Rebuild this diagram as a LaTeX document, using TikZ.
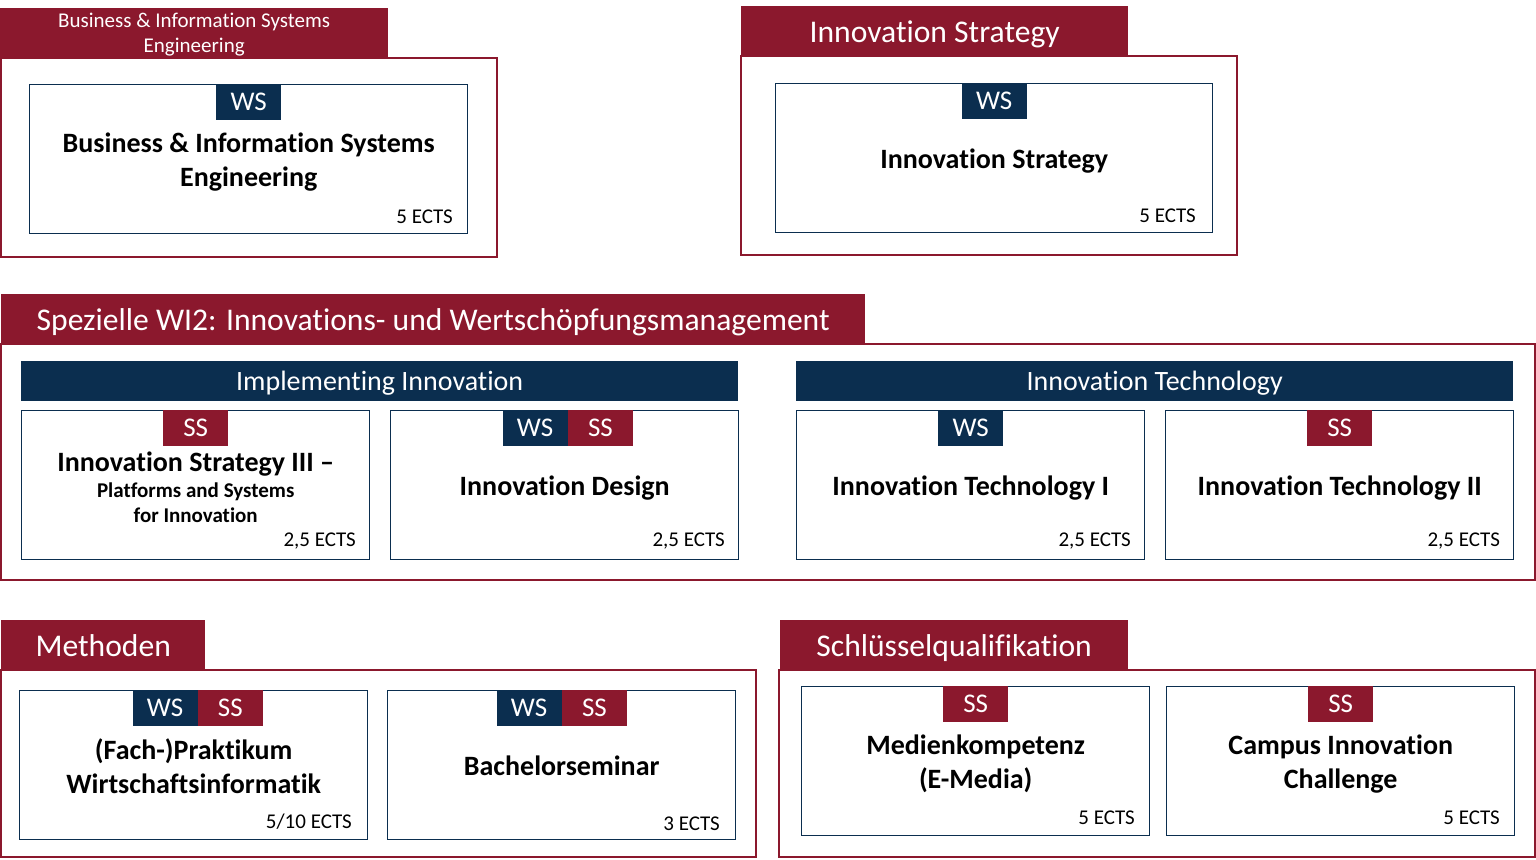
\documentclass[tikz,border=0pt]{standalone}
\usepackage{fontspec}
\setmainfont{Carlito}[Ligatures=NoCommon]
\usetikzlibrary{positioning}
\definecolor{uniRot}{RGB}{139,24,45}
\definecolor{uniBlau}{RGB}{11,46,79}

\begin{document}
\begin{tikzpicture}[
        x=1pt, y=-1pt, % Koordinaten in Pixeln, y nach unten
        frame/.style = {draw=uniRot, line width=1.3pt},
        tab/.style = {fill=uniRot, text=white, anchor=south west, minimum height=50pt, inner sep=0pt},
        tabzeile/.style = {tab, text height=29pt, text depth=5pt, font=\fontsize{31.6}{36}\selectfont},
        bar/.style = {fill=uniBlau, text=white, anchor=north west, minimum width=717pt, minimum height=40pt, inner sep=0pt, text height=24pt, text depth=5pt, font=\fontsize{28}{32}\selectfont},
        card/.style = {draw=uniBlau, line width=1.4pt, anchor=north west, minimum width=348pt, minimum height=149pt, inner sep=0pt}, % Modul
        sem/.style = {text=white, minimum width=65pt, minimum height=36pt, inner sep=0pt, font=\fontsize{27}{30}\selectfont},
        ws/.style = {sem, fill=uniBlau},
        ss/.style = {sem, fill=uniRot},
        titel/.style = {align=center, yshift=-3pt, font=\fontsize{28}{34}\selectfont\bfseries},
        ects/.style = {anchor=east, font=\fontsize{21}{24}\selectfont},
    ]
    \useasboundingbox (0,0) rectangle (1536,859);

    % Business & Information Systems Engineering
    \draw[frame] (1,58) rectangle (497,257);
    \node[tab, minimum width=388pt, align=center, font=\fontsize{21}{25}\selectfont] (bisetab) at (0,58) {\rule{0pt}{19pt}Business \& Information Systems\\Engineering};
    \node[card, minimum width=438pt] (bise) at (29,84) {};
    \node[ws, anchor=north] (bisews) at (bise.north) {WS};
    \node[titel] (bisetitel) at (bise.center) {Business \& Information Systems\\Engineering};
    \node[ects] (biseects) at ([xshift=-12pt,yshift=18pt]bise.south east) {5 ECTS};

    % Innovation Strategy
    \draw[frame] (741,56) rectangle (1237,255);
    \node[tabzeile, minimum width=387pt] (istab) at (741,56) {Innovation Strategy};
    \node[card, minimum width=437pt] (is) at (775,83) {};
    \node[ws, anchor=north] (isws) at (is.north) {WS};
    \node[titel] (istitel) at (is.center) {Innovation Strategy};
    \node[ects] (isects) at ([xshift=-14pt,yshift=18pt]is.south east) {5 ECTS};

    % Spezielle WI2
    \draw[frame] (1,344) rectangle (1535,580);
    \node[tabzeile, minimum width=864pt] (wi2tab) at (1,344) {Spezielle WI2: Innovations- und Wertschöpfungsmanagement};
    \node[bar] (impl) at (21,361) {Implementing Innovation};
    \node[bar] (tech) at (796,361) {Innovation Technology};

    \node[card] (is3) at (21,410) {};
    \node[ss, anchor=north] (is3ss) at (is3.north) {SS};
    \node[titel, yshift=1pt] (is3titel) at (is3.center) {Innovation Strategy III –\\[-8pt]{\fontsize{21}{25}\selectfont Platforms and Systems}\\[-9pt]{\fontsize{21}{25}\selectfont for Innovation}};
    \node[ects] (is3ects) at ([xshift=-11pt,yshift=19pt]is3.south east) {2,5 ECTS};

    \node[card] (design) at (390,410) {};
    \node[ws, anchor=north east] (designws) at ([xshift=3pt]design.north) {WS};
    \node[ss, anchor=west] (designss) at (designws.east) {SS};
    \node[titel] (designtitel) at (design.center) {Innovation Design};
    \node[ects] (designects) at ([xshift=-11pt,yshift=19pt]design.south east) {2,5 ECTS};

    \node[card] (tech1) at (796,410) {};
    \node[ws, anchor=north] (tech1ws) at (tech1.north) {WS};
    \node[titel] (tech1titel) at (tech1.center) {Innovation Technology I};
    \node[ects] (tech1ects) at ([xshift=-11pt,yshift=19pt]tech1.south east) {2,5 ECTS};

    \node[card] (tech2) at (1165,410) {};
    \node[ss, anchor=north] (tech2ss) at (tech2.north) {SS};
    \node[titel] (tech2titel) at (tech2.center) {Innovation Technology II};
    \node[ects] (tech2ects) at ([xshift=-11pt,yshift=19pt]tech2.south east) {2,5 ECTS};

    % Methoden
    \draw[frame] (1,670) rectangle (756,857);
    \node[tabzeile, minimum width=204pt] (methtab) at (1,670) {Methoden};

    \node[card] (prak) at (19,690) {};
    \node[ws, anchor=north east] (prakws) at ([xshift=4pt]prak.north) {WS};
    \node[ss, anchor=west] (prakss) at (prakws.east) {SS};
    \node[titel, yshift=2pt] (praktitel) at (prak.center) {(Fach-)Praktikum\\Wirtschaftsinformatik};
    \node[ects] (prakects) at ([xshift=-13pt,yshift=19pt]prak.south east) {5/10 ECTS};

    \node[card] (bsem) at (387,690) {};
    \node[ws, anchor=north east] (bsemws) at ([xshift=0pt]bsem.north) {WS};
    \node[ss, anchor=west] (bsemss) at (bsemws.east) {SS};
    \node[titel, yshift=2pt] (bsemtitel) at (bsem.center) {Bachelorseminar};
    \node[ects] (bsemects) at ([xshift=-13pt,yshift=17pt]bsem.south east) {3 ECTS};

    % Schlüsselqualifikation
    \draw[frame] (779,670) rectangle (1535,857);
    \node[tabzeile, minimum width=348pt] (sqtab) at (780,670) {Schlüsselqualifikation};

    \node[card] (media) at (801,686) {};
    \node[ss, anchor=north] (mediass) at (media.north) {SS};
    \node[titel] (mediatitel) at (media.center) {Medienkompetenz\\(E-Media)};
    \node[ects] (mediaects) at ([xshift=-12pt,yshift=19pt]media.south east) {5 ECTS};

    \node[card] (cic) at (1166,686) {};
    \node[ss, anchor=north] (cicss) at (cic.north) {SS};
    \node[titel] (cictitel) at (cic.center) {Campus Innovation\\Challenge};
    \node[ects] (cicects) at ([xshift=-12pt,yshift=19pt]cic.south east) {5 ECTS};
\end{tikzpicture}
\end{document}
